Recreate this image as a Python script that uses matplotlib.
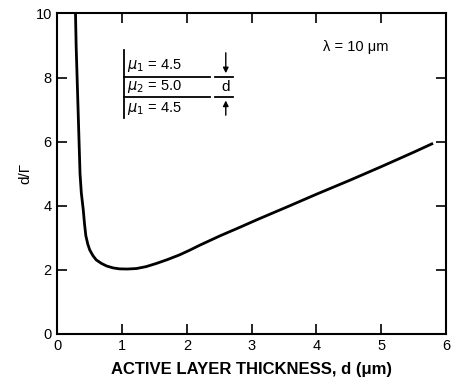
import numpy as np
import matplotlib.pyplot as plt

# curve
thickness = [0.28, 0.29, 0.305, 0.32, 0.335, 0.35, 0.37, 0.40, 0.42, 0.44, 0.47, 0.50, 0.55,
             0.60, 0.68, 0.76, 0.86, 0.96, 1.08, 1.22, 1.37, 1.53, 1.70, 1.89, 2.05, 2.20,
             2.51, 2.82, 3.10, 3.6, 4.0, 4.52, 5.0, 5.5, 5.78]
d_over_gamma = [10.0, 9.0, 8.0, 7.0, 6.0, 5.0, 4.4, 3.87, 3.42, 3.06, 2.80, 2.62, 2.44,
                2.31, 2.20, 2.12, 2.06, 2.03, 2.025, 2.04, 2.10, 2.20, 2.32, 2.47, 2.62, 2.77,
                3.06, 3.33, 3.58, 4.01, 4.36, 4.80, 5.22, 5.67, 5.93]

x_ticks = [0, 1, 2, 3, 4, 5, 6]
y_ticks = [0, 2, 4, 6, 8, 10]

plt.rcParams['font.family'] = ['Liberation Sans', 'DejaVu Sans']

fig = plt.figure(figsize=(4.74, 3.91), dpi=100)
ax = fig.add_axes([0.121, 0.146, 0.820, 0.8195])

ax.plot(thickness, d_over_gamma, color='black', lw=2.0, solid_joinstyle='round')

ax.set_xlim(0, 6)
ax.set_ylim(0, 10)
ax.set_xticks(x_ticks)
ax.set_yticks(y_ticks)
ax.tick_params(direction='in', length=7, width=1.2, top=True, right=True,
               labelsize=10.5, pad=4)
for s in ax.spines.values():
    s.set_linewidth(1.5)

ax.set_xlabel('ACTIVE LAYER THICKNESS, d (\u03bcm)', fontsize=12, fontweight='bold', labelpad=6)
ax.set_ylabel('d/\u0393', fontsize=11, labelpad=2)

# layer sketch
ax.plot([1.03, 1.03], [6.74, 8.86], color='black', lw=1.3)
ax.plot([1.03, 2.36], [8.03, 8.03], color='black', lw=1.3)
ax.plot([1.03, 2.36], [7.39, 7.39], color='black', lw=1.3)
ax.plot([2.43, 2.71], [8.03, 8.03], color='black', lw=1.3)
ax.plot([2.43, 2.71], [7.39, 7.39], color='black', lw=1.3)
ax.annotate('', xy=(2.60, 8.05), xytext=(2.60, 8.86),
            arrowprops=dict(arrowstyle='-|>', color='black', lw=1.0, mutation_scale=8))
ax.annotate('', xy=(2.60, 7.37), xytext=(2.60, 6.74),
            arrowprops=dict(arrowstyle='-|>', color='black', lw=1.0, mutation_scale=8))
ax.text(2.60, 7.71, 'd', ha='center', va='center', fontsize=11)

ax.text(1.08, 8.39, '$\\mu_1$ = 4.5', ha='left', va='center', fontsize=10.5)
ax.text(1.08, 7.71, '$\\mu_2$ = 5.0', ha='left', va='center', fontsize=10.5)
ax.text(1.08, 7.05, '$\\mu_1$ = 4.5', ha='left', va='center', fontsize=10.5)

ax.text(4.6, 8.95, '\u03bb = 10 \u03bcm', ha='center', va='center', fontsize=10.5)

fig.savefig('out.png', dpi=100)
